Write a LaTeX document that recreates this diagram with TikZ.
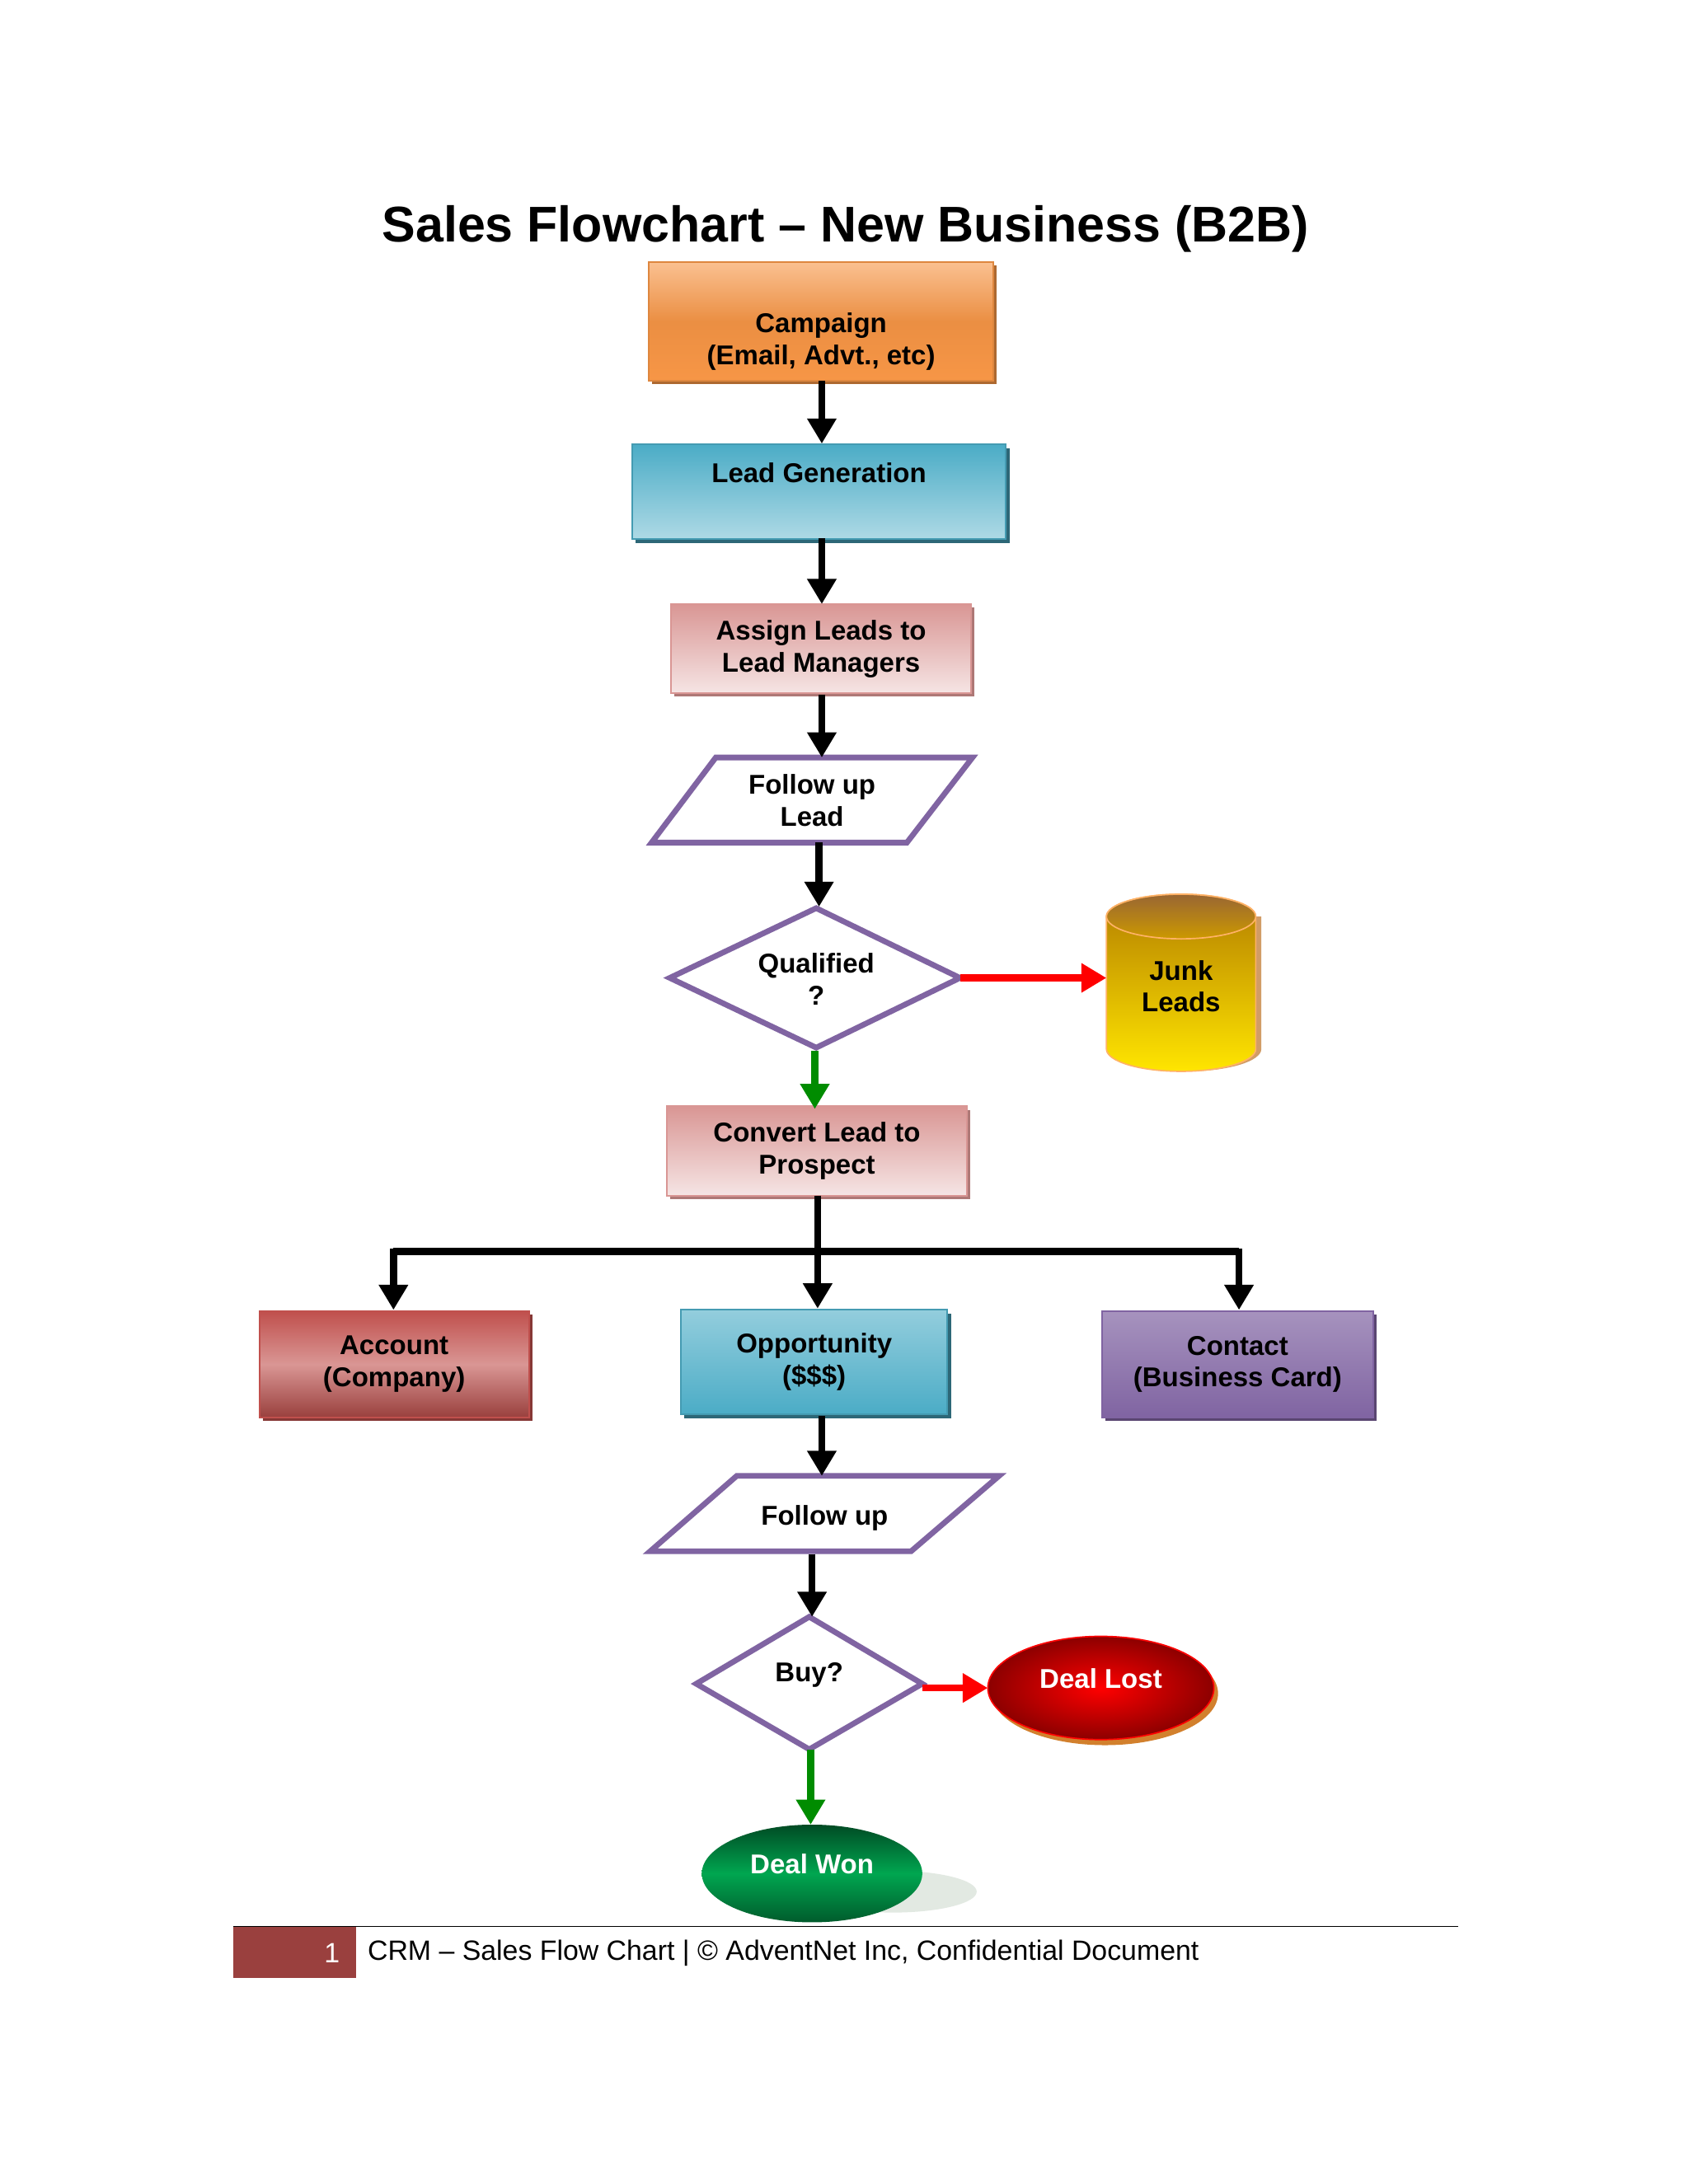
\documentclass[tikz,border=0pt]{standalone}
\usepackage{fontspec}
\setmainfont{Liberation Sans}
\usetikzlibrary{shapes.geometric,arrows.meta,shadows}
\definecolor{purp}{HTML}{8064A2}
\definecolor{org}{HTML}{F79646}
\definecolor{blu}{HTML}{4BACC6}
\definecolor{pnk}{HTML}{D99694}
\definecolor{rd}{HTML}{C0504D}
\definecolor{gwon}{HTML}{00A650}
\begin{document}
\begin{tikzpicture}[x=1pt,y=-1pt,
  txt/.style={font=\fontsize{19.5}{23}\selectfont\bfseries, align=center, text=black},
  box/.style={txt, draw, line width=1.2pt, inner sep=0pt},
  shad/.style={drop shadow={shadow xshift=2.5pt,shadow yshift=-2.5pt,opacity=1,fill=#1}},
  para/.style={txt, draw=purp, line width=4pt, fill=white},
  arr/.style={line width=5pt, -{Triangle[length=18pt,width=20pt]}},
  arrg/.style={arr, draw=green!60!black!90, color=green!55!black},
  arrr/.style={arr, draw=red, color=red}]
\useasboundingbox (0,0) rectangle (1210,1565.6);
\fill[white] (0,0) rectangle (1210,1565.6);
\node[font=\fontsize{36}{40}\selectfont\bfseries] (title) at (606,164) {Sales Flowchart – New Business (B2B)};
% boxes
\node[box, draw=org!90!black, shad=org!70!black, top color=org!60, bottom color=org, middle color=org!95!black, minimum width=247pt, minimum height=85pt, text depth=0pt] (camp) at (588.5,230.5) {\raisebox{-12pt}{\begin{tabular}{c}Campaign\\(Email, Advt., etc)\end{tabular}}};
\node[box, draw=blu!90!black, shad=blu!60!black, top color=blu, bottom color=blu!45, minimum width=268pt, minimum height=68pt, anchor=north, text depth=40pt] (lead) at (587,318) {\raisebox{-12pt}{Lead Generation}};
\node[box, draw=pnk, shad=pnk!80!black, top color=pnk, bottom color=pnk!25, minimum width=215pt, minimum height=64pt] (assign) at (588.5,465) {Assign Leads to\\Lead Managers};
\draw[para] (513,543) -- (697,543) -- (650,604) -- (467,604) -- cycle;
\node[txt] (fol) at (582,574) {Follow up\\Lead};
\draw[para] (480,701) -- (585,651) -- (688,701) -- (585,751) -- cycle;
\node[txt] (qual) at (585,702) {Qualified\\?};
\coordinate (qR) at (688,701);
% cylinder
\fill[orange!70!black!60] (797,657) -- (797,752) arc[start angle=180,end angle=360,x radius=53.5pt,y radius=16pt] -- (904,657) -- cycle;
\shade[top color=yellow!40!orange!70!black, bottom color=yellow!80!orange, draw=orange!60, line width=1pt] (793,657) -- (793,752) arc[start angle=180,end angle=360,x radius=53.5pt,y radius=16pt] -- (900,657) arc[start angle=0,end angle=180,x radius=53.5pt,y radius=16pt];
\shade[top color=brown!80!black, bottom color=yellow!50!orange!80!black, draw=orange!60, line width=1pt] (846.5,657) ellipse[x radius=53.5pt,y radius=16pt];
\node[txt] (junk) at (846.5,707) {Junk\\Leads};
\coordinate (junkL) at (793,701);
\node[box, draw=pnk, shad=pnk!80!black, top color=pnk, bottom color=pnk!25, minimum width=215pt, minimum height=64pt] (conv) at (585.5,825) {Convert Lead to\\Prospect};
\node[box, draw=rd, shad=rd!70!black, text=black, top color=rd, bottom color=rd!80!black, middle color=rd!60, minimum width=193pt, minimum height=76pt] (acc) at (282.5,978) {Account\\(Company)};
\node[box, draw=blu!90!black, shad=blu!60!black, top color=blu!60, bottom color=blu, minimum width=191pt, minimum height=75pt] (opp) at (583.5,976.5) {Opportunity\\(\$\$\$)};
\node[box, draw=purp, shad=purp!70!black, top color=purp!70, bottom color=purp, minimum width=194pt, minimum height=76pt] (cont) at (887,978) {Contact\\(Business Card)};
\draw[para] (528,1058) -- (716,1058) -- (653,1112) -- (466,1112) -- cycle;
\node[txt] (fu) at (591,1088) {Follow up};
\draw[para] (499,1207) -- (580,1159) -- (661,1207) -- (580,1254) -- cycle;
\node[txt] (buy) at (580,1201) {Buy?};
\coordinate (bR) at (661,1210); \coordinate (bB) at (581,1254);
\fill[brown!70!orange] (792,1214) ellipse[x radius=81pt,y radius=37pt];
\shade[inner color=red, outer color=red!55!black, draw=red, line width=1pt] (789,1210) ellipse[x radius=81pt,y radius=37pt];
\node[txt, text=white] (lost) at (789,1203) {Deal Lost};
\coordinate (lostL) at (708,1210);
\fill[green!15!gray!20] (640,1356) ellipse[x radius=60pt,y radius=15pt];
\shade[top color=gwon!45!black, bottom color=gwon!55!black, middle color=gwon] (582,1343) ellipse[x radius=79pt,y radius=35pt];
\node[txt, text=white] (won) at (582,1336) {Deal Won};
\coordinate (wonT) at (581,1308);
% arrows
\draw[arr] (589,273) -- (589,318);
\draw[arr] (589,386) -- (589,433);
\draw[arr] (589,498) -- (589,543);
\draw[arr] (587,604) -- (587,650);
\draw[arrr] (qR) -- (junkL);
\draw[arrg] (584,753) -- (584,795);
\coordinate (bus) at (586,897);
\draw[line width=5pt] (282,897) -- (888,897);
\draw[line width=5pt] (586,857) -- (bus);
\draw[arr] (282,895) -- (282,939);
\draw[arr] (586,895) -- (586,938);
\draw[arr] (888,895) -- (888,939);
\draw[arr] (589,1015) -- (589,1058);
\draw[arr] (582,1114) -- (582,1159);
\draw[arrr] (bR) -- (lostL);
\draw[arrg] (bB) -- (wonT);
% footer
\fill[rd!80!black] (167,1381) rectangle (255,1418);
\node[font=\fontsize{20}{22}\selectfont, text=white] (pg) at (238,1400) {1};
\draw[line width=1pt] (167,1381) -- (1045,1381);
\node[font=\fontsize{20}{22}\selectfont, anchor=west] (foot) at (260,1400) {CRM – Sales Flow Chart | © AdventNet Inc, Confidential Document};
\end{tikzpicture}
\end{document}
